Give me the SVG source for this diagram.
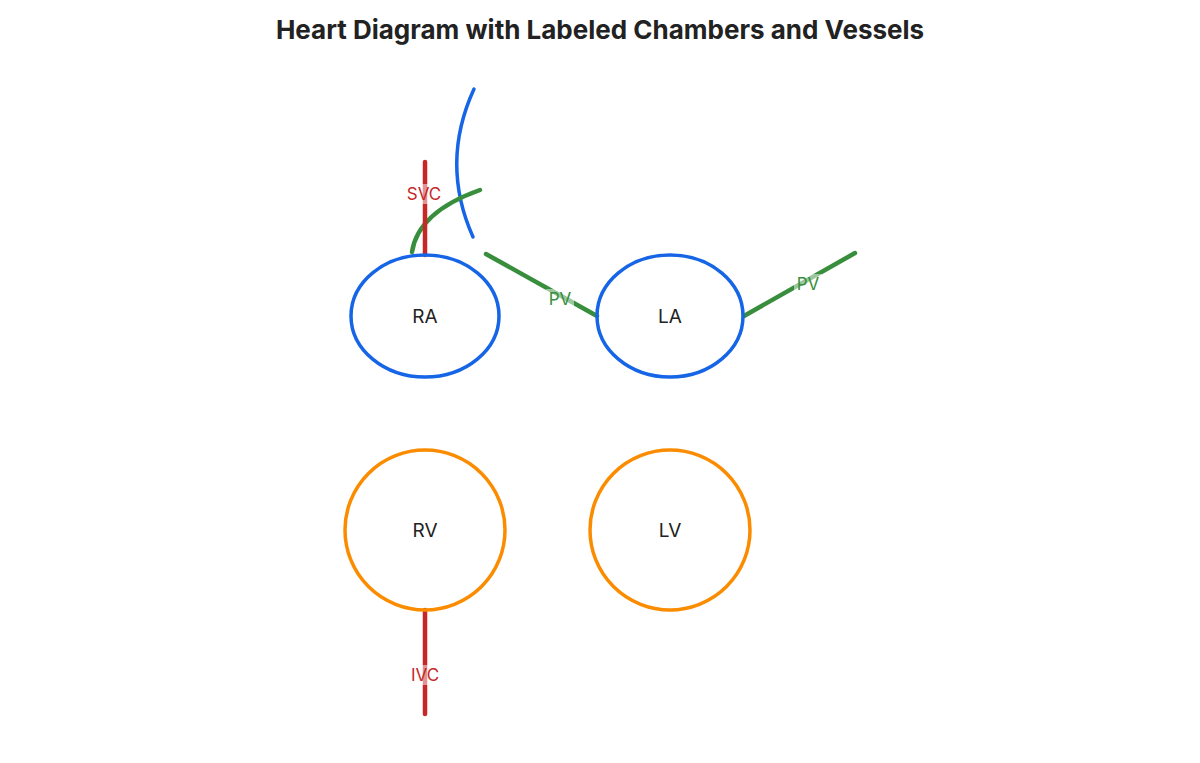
<svg xmlns="http://www.w3.org/2000/svg" width="1200" height="763" viewBox="0 0 1200 763">
<style>
.t{font-family:Inter,"Liberation Sans",sans-serif;text-anchor:middle;dominant-baseline:central}
.lbl{font-size:19px;fill:#222}
.atr{fill:none;stroke:#1565e6;stroke-width:3.5}
.ven{fill:none;stroke:#fb8c00;stroke-width:3.5}
.red{stroke:#c62828;stroke-width:4.5;stroke-linecap:round;fill:none}
.grn{stroke:#388e3c;stroke-width:4.5;stroke-linecap:round;fill:none}
.bg{fill:#fff;opacity:0.5}
</style>
<rect width="1200" height="763" fill="#fff"/>
<text class="t" x="600" y="29" style="font-size:26px;font-weight:700;fill:#222">Heart Diagram with Labeled Chambers and Vessels</text>
<g id="connectors">
<path class="atr" d="M474,89 Q440,163 473,237" stroke-linecap="round"/>
<path class="grn" d="M412,252 Q418,212 480,190"/>
<line class="red" x1="425" y1="162" x2="425" y2="255"/>
<line class="red" x1="425" y1="610" x2="425" y2="714"/>
<line class="grn" x1="486" y1="254" x2="597" y2="316"/>
<line class="grn" x1="744" y1="316" x2="855" y2="253"/>
<rect class="bg" x="406" y="184" width="38" height="20"/>
<text class="t" x="424" y="194" style="font-size:17px;fill:#c62828">SVC</text>
<rect class="bg" x="409" y="665" width="32" height="20"/>
<text class="t" x="425" y="675" style="font-size:17px;fill:#c62828">IVC</text>
<rect class="bg" x="546" y="289" width="28" height="20"/>
<text class="t" x="560" y="299" style="font-size:17px;fill:#388e3c">PV</text>
<rect class="bg" x="794" y="274" width="28" height="20"/>
<text class="t" x="808" y="284" style="font-size:17px;fill:#388e3c">PV</text>
</g>
<g id="RA"><ellipse class="atr" cx="425" cy="316" rx="74" ry="61"/><text class="t lbl" x="425" y="316">RA</text></g>
<g id="LA"><ellipse class="atr" cx="670" cy="316" rx="73" ry="61"/><text class="t lbl" x="670" y="316">LA</text></g>
<g id="RV"><circle class="ven" cx="425" cy="530" r="80"/><text class="t lbl" x="425" y="530">RV</text></g>
<g id="LV"><circle class="ven" cx="670" cy="530" r="80"/><text class="t lbl" x="670" y="530">LV</text></g>
</svg>
